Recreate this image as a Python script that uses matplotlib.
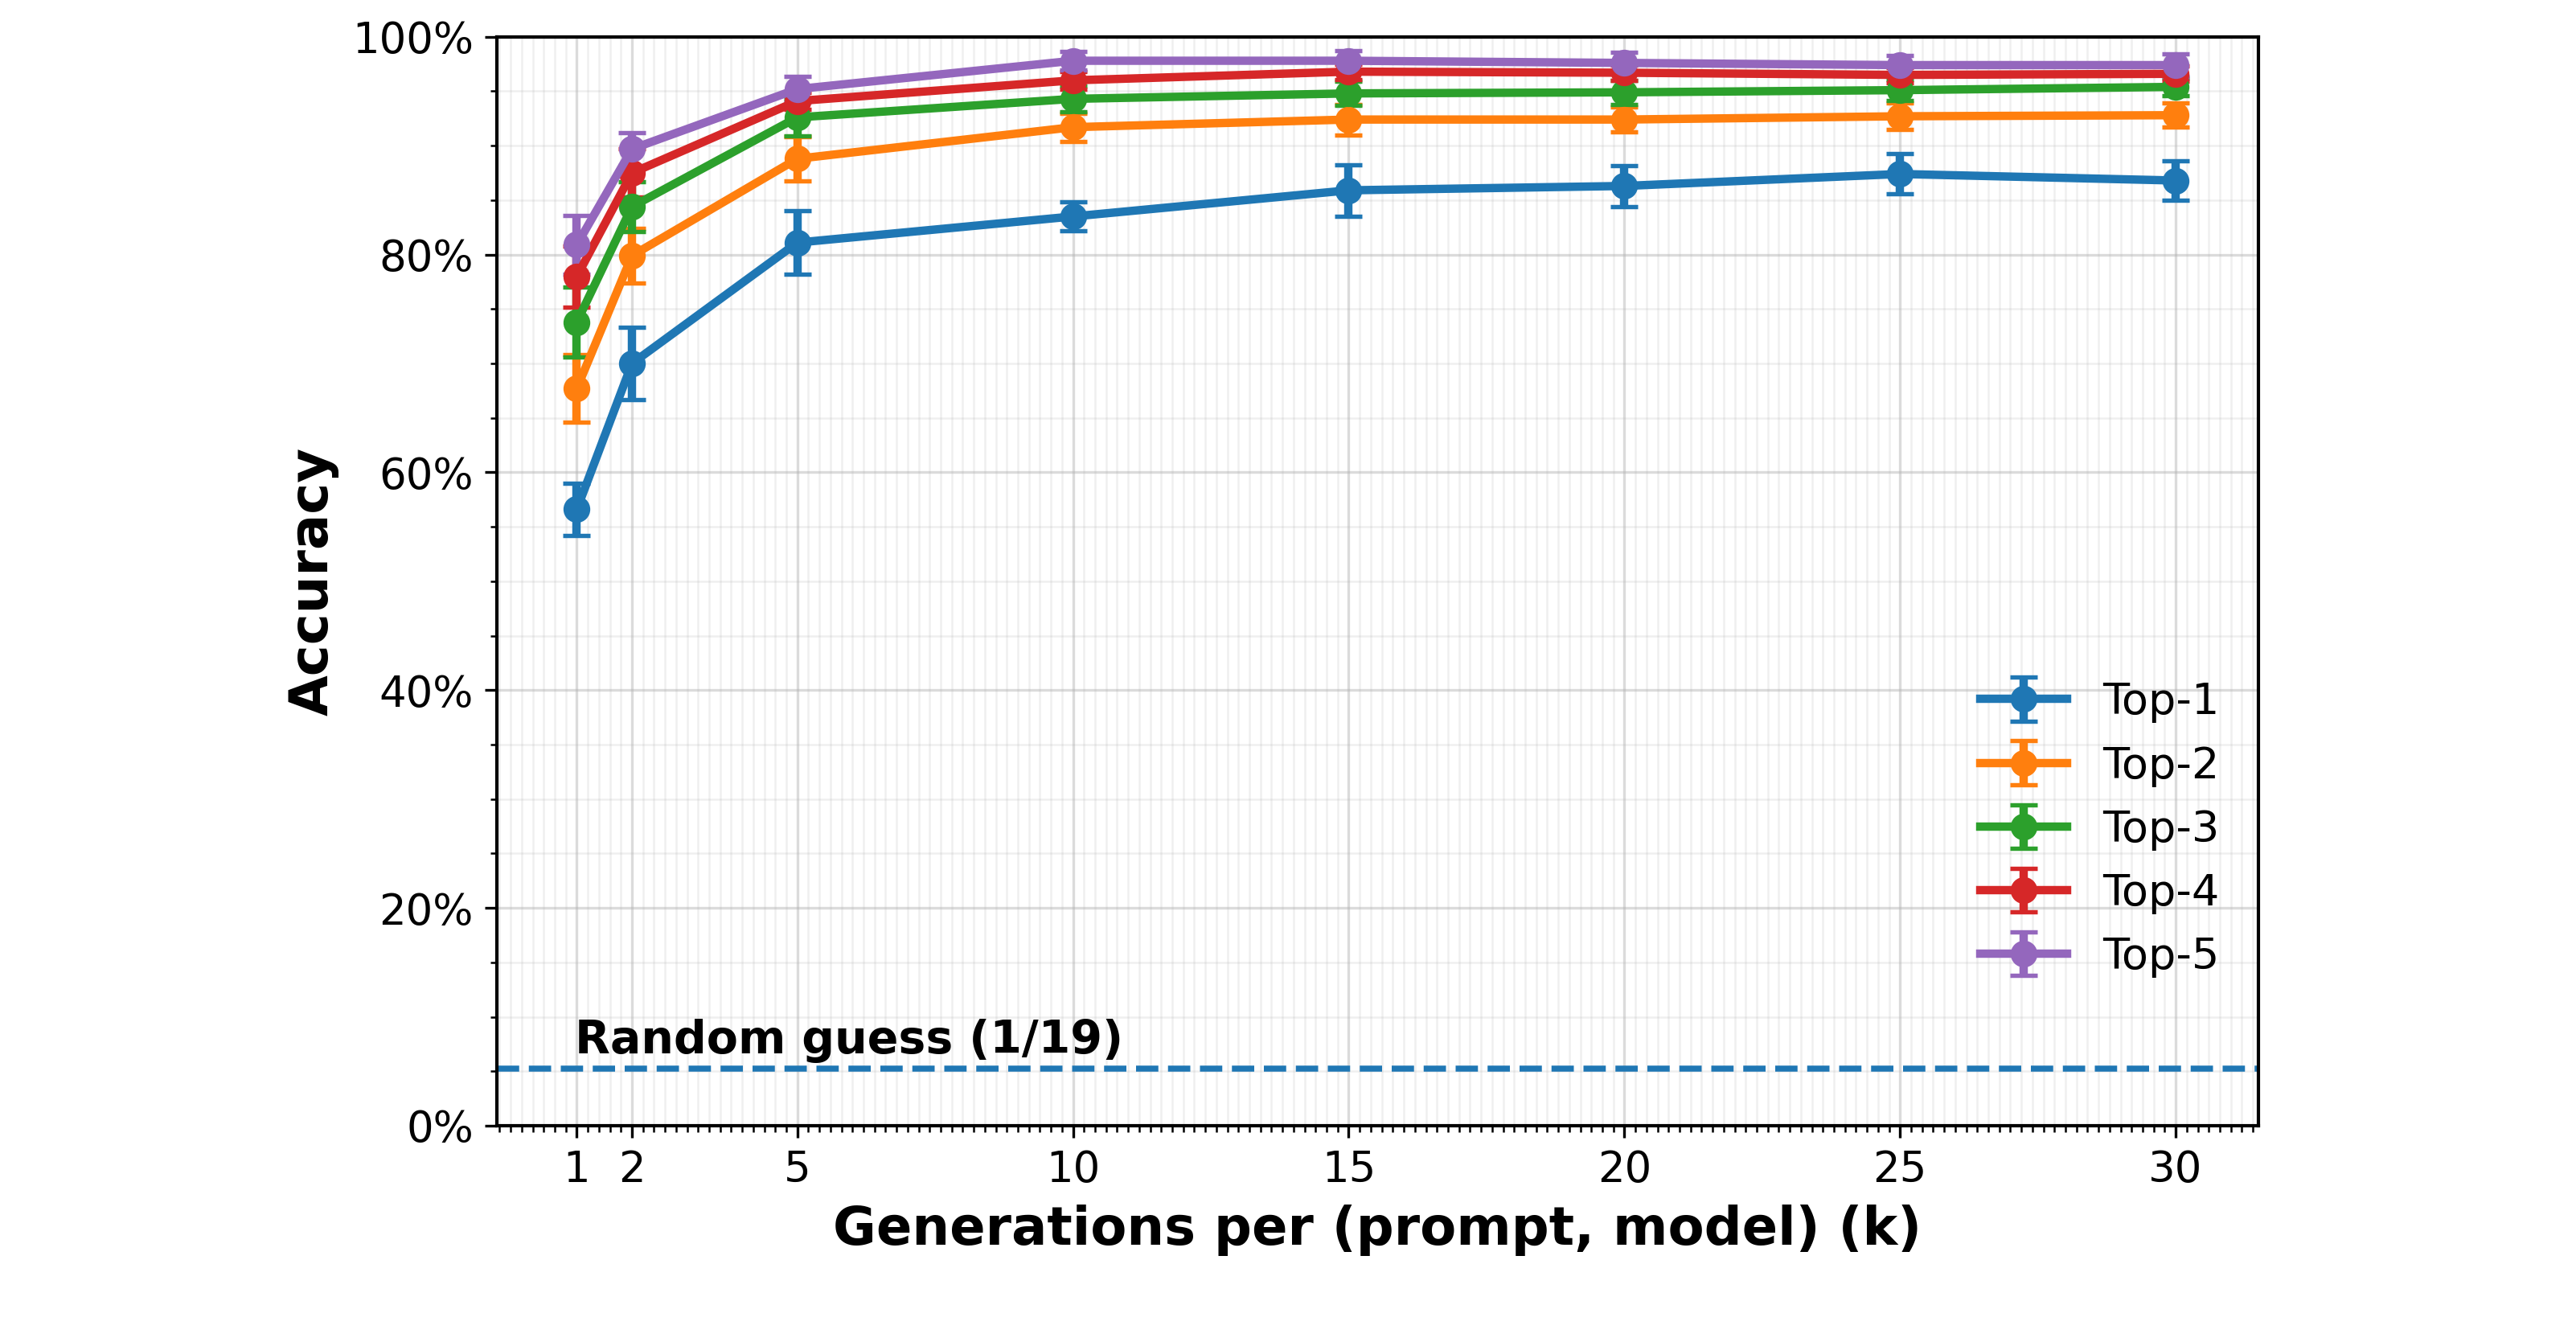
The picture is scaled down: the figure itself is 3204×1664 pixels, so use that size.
import matplotlib
matplotlib.use("Agg")
import matplotlib.pyplot as plt
from matplotlib.ticker import PercentFormatter, AutoMinorLocator

# ---- data (accuracy in %) ----
k = [1, 2, 5, 10, 15, 20, 25, 30]
series_labels = ["Top-1", "Top-2", "Top-3", "Top-4", "Top-5"]
top1 = [56.6, 70.0, 81.1, 83.5, 85.9, 86.3, 87.4, 86.8]
top1_err = [2.4, 3.3, 2.9, 1.35, 2.35, 1.9, 1.85, 1.8]
top2 = [67.7, 79.9, 88.8, 91.7, 92.4, 92.4, 92.7, 92.8]
top2_err = [3.1, 2.5, 2.0, 1.3, 1.4, 1.15, 1.2, 1.1]
top3 = [73.8, 84.4, 92.6, 94.3, 94.8, 94.9, 95.1, 95.4]
top3_err = [3.2, 2.3, 1.7, 1.2, 1.1, 1.1, 0.95, 0.8]
top4 = [78.0, 87.5, 94.1, 96.0, 96.8, 96.7, 96.5, 96.6]
top4_err = [2.8, 2.2, 0.8, 0.8, 0.7, 0.7, 0.7, 0.7]
top5 = [80.9, 89.7, 95.2, 97.8, 97.8, 97.6, 97.4, 97.4]
top5_err = [2.7, 1.5, 1.2, 0.85, 0.9, 1.0, 0.85, 1.0]
random_guess = 100.0 / 19
random_label = "Random guess (1/19)"
xtick_values = [1, 2, 5, 10, 15, 20, 25, 30]

values = [top1, top2, top3, top4, top5]
errors = [top1_err, top2_err, top3_err, top4_err, top5_err]
colors = ["#1f77b4", "#ff7f0e", "#2ca02c", "#d62728", "#9467bd"]

fig = plt.figure(figsize=(10.68, 5.5467), dpi=300)
ax = fig.add_axes([0.1929, 0.1587, 0.8767 - 0.1929, 0.9725 - 0.1587])

for vals, errs, lab, c in zip(values, errors, series_labels, colors):
    ax.errorbar(k, vals, yerr=errs, label=lab, color=c, marker="o",
                markersize=7, linewidth=2.5, capsize=4, capthick=1.3)

ax.axhline(random_guess, color="#1f77b4", linestyle="--", linewidth=1.8)
ax.text(0.97, random_guess + 0.5, random_label, fontsize=13.7,
        fontweight="bold", ha="left", va="bottom")

ax.set_xlim(-0.45, 31.5)
ax.set_ylim(0, 100)
ax.set_xticks(xtick_values)
ax.xaxis.set_minor_locator(AutoMinorLocator())
ax.yaxis.set_minor_locator(AutoMinorLocator())
ax.yaxis.set_major_formatter(PercentFormatter(xmax=100, decimals=0))
ax.tick_params(axis="both", which="major", labelsize=12.7)

ax.grid(True, which="major", color="#b0b0b0", alpha=0.45, linewidth=0.8)
ax.grid(True, which="minor", color="#b0b0b0", alpha=0.2, linewidth=0.6)
ax.set_axisbelow(True)

for s in ax.spines.values():
    s.set_linewidth(1.0)

ax.set_xlabel("Generations per (prompt, model) (k)", fontsize=15.75,
              fontweight="bold")
ax.set_ylabel("Accuracy", fontsize=15.75, fontweight="bold")

ax.legend(loc="lower right", bbox_to_anchor=(1.0, 0.1), frameon=False,
          fontsize=13)

fig.savefig("out.png", dpi=300)
